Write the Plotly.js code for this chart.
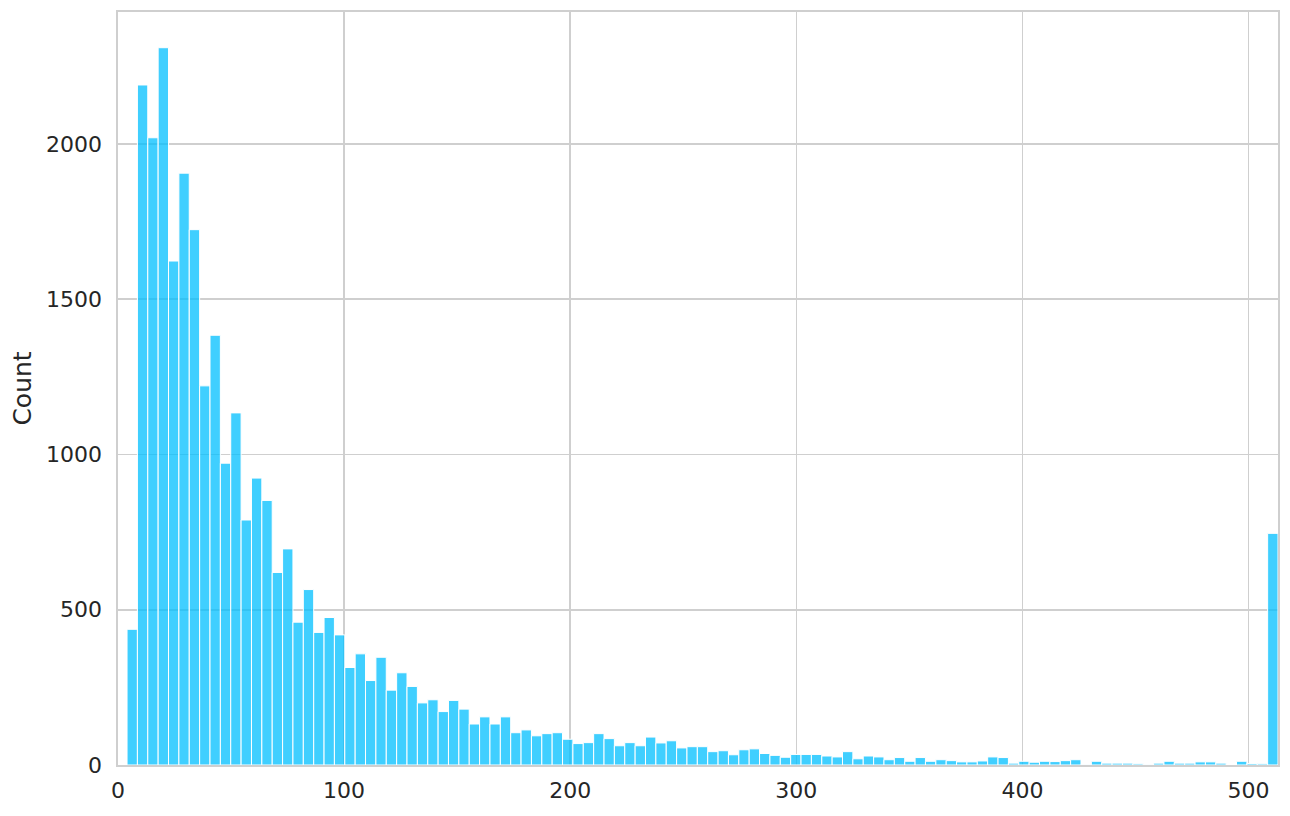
<!DOCTYPE html>
<html>
<head>
<meta charset="utf-8">
<script src="https://cdn.plot.ly/plotly-3.0.1.min.js"></script>
<style>html,body{margin:0;padding:0;background:#fff;}#chart{width:1290px;height:816px;}</style>
</head>
<body>
<div id="chart"></div>
<script>
// Histogram definition: first bin edge and bin width (value units)
const binStart = 4;
const binWidth = 4.5856;
// Count per bin (111 bins)
const counts = [
  437, 2190, 2020, 2310, 1623, 1906, 1724, 1221, 1384, 972,
  1134, 789, 924, 852, 620, 696, 460, 565, 427, 475,
  419, 314, 358, 272, 347, 241, 297, 253, 200, 210,
  172, 208, 180, 132, 155, 132, 155, 104, 113, 94,
  101, 104, 83, 69, 72, 101, 85, 62, 72, 62,
  90, 71, 78, 55, 59, 59, 43, 46, 33, 49,
  52, 37, 31, 25, 34, 34, 34, 29, 26, 43,
  20, 29, 26, 17, 24, 12, 24, 12, 17, 14,
  10, 10, 13, 26, 24, 6, 12, 9, 12, 11,
  14, 17, 1, 12, 6, 6, 6, 4, 1, 6,
  12, 6, 6, 10, 10, 6, 0, 12, 5, 4,
  746
];
const xTicks = [0, 100, 200, 300, 400, 500];
const yTicks = [0, 500, 1000, 1500, 2000];
const yLabel = "Count";

const binCenters = counts.map((_, i) => binStart + (i + 0.5) * binWidth);

const trace = {
  type: 'bar',
  x: binCenters,
  y: counts,
  width: binWidth,
  marker: {color: 'rgba(0,191,255,0.75)', line: {color: '#ffffff', width: 1}},
  hoverinfo: 'x+y'
};

const gridColor = '#cfcfcf';
const layout = {
  width: 1290, height: 816,
  margin: {l: 118, r: 12, t: 12, b: 51, pad: 0},
  paper_bgcolor: '#ffffff', plot_bgcolor: '#ffffff',
  font: {family: 'DejaVu Sans, sans-serif', size: 22, color: '#262626'},
  bargap: 0,
  showlegend: false,
  xaxis: {
    range: [0, 513], tickvals: xTicks, ticktext: xTicks.map(String),
    showgrid: true, gridcolor: gridColor, gridwidth: 1.7,
    showline: true, linecolor: gridColor, linewidth: 1.7, mirror: true,
    zeroline: false, ticks: 'outside', ticklen: 5, tickcolor: 'rgba(0,0,0,0)',
    tickfont: {size: 22, color: '#262626'}
  },
  yaxis: {
    range: [0, 2425], tickvals: yTicks, ticktext: yTicks.map(String),
    showgrid: true, gridcolor: gridColor, gridwidth: 1.7,
    showline: true, linecolor: gridColor, linewidth: 1.7, mirror: true,
    zeroline: false, ticks: 'outside', ticklen: 10, tickcolor: 'rgba(0,0,0,0)',
    tickfont: {size: 22, color: '#262626'},
    title: {text: yLabel, font: {size: 25, color: '#262626'}, standoff: 7}
  }
};

Plotly.newPlot('chart', [trace], layout, {displayModeBar: false, staticPlot: true});
</script>
</body>
</html>
